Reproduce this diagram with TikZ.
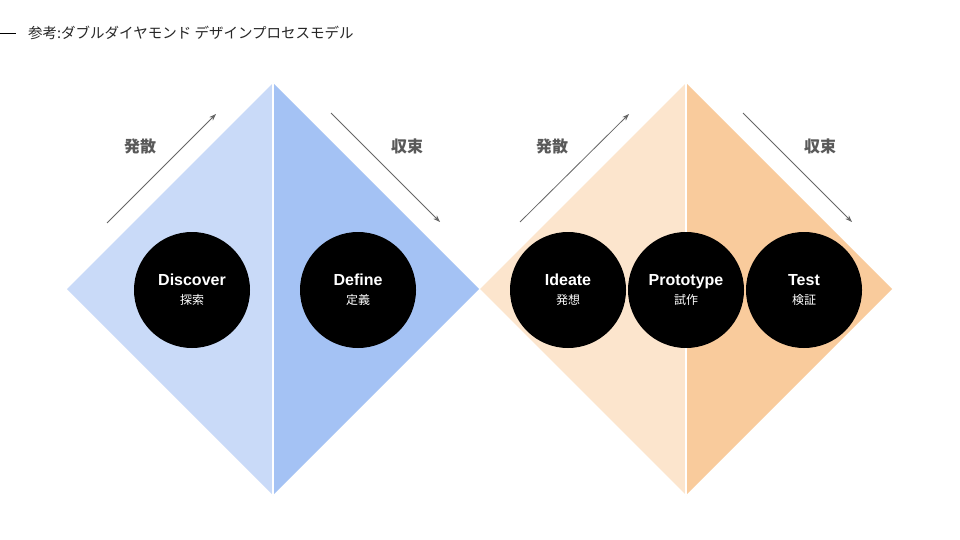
\documentclass[tikz,border=0pt]{standalone}
\usepackage{fontspec}
\setmainfont{Noto Sans CJK JP}
\newfontfamily\latinbold{Liberation Sans}[BoldFont={Liberation Sans Bold}]
\usetikzlibrary{arrows.meta}
\definecolor{blueL}{HTML}{C9DAF8}
\definecolor{blueR}{HTML}{A4C2F4}
\definecolor{orangeL}{HTML}{FCE5CD}
\definecolor{orangeR}{HTML}{F9CB9C}
\definecolor{arrowgray}{HTML}{666666}
\definecolor{labelgray}{HTML}{595959}
\tikzset{
  phase/.style={circle, fill=black, minimum size=116pt, inner sep=0pt},
  phasename/.style={anchor=base, inner sep=0pt, text=white, font=\latinbold\bfseries\fontsize{16}{20}\selectfont},
  phasesub/.style={anchor=base, inner sep=0pt, text=white, font=\fontsize{12}{15}\selectfont},
  flowarrow/.style={draw=arrowgray, line width=0.8pt, -{Stealth[length=7pt,width=5pt]}},
  flowlabel/.style={text=labelgray, font=\fontsize{16}{19}\selectfont\bfseries},
  halfgap/.style={draw=white, line width=1.5pt},
}
\newcommand{\phasecircle}[4]{%
  \node[phase] (#1) at (#2,290) {};
  \node[phasename] (#1-name) at ([yshift=4.5pt]#1.center) {#3};
  \node[phasesub] (#1-sub) at ([yshift=-14.5pt]#1.center) {#4};
}
\begin{document}
\begin{tikzpicture}[x=1pt,y=-1pt]
\useasboundingbox (0,0) rectangle (960,540);
\fill[white] (0,0) rectangle (960,540);
% title
\draw[black, line width=0.8pt] (0,33) -- (16,33);
\node[anchor=west, inner sep=0pt, text=black!85, font=\fontsize{14.5}{17}\selectfont] (title) at (28,33) {参考:ダブルダイヤモンド デザインプロセスモデル};
% left diamond
\fill[blueL] (273,83) -- (67,289) -- (273,495) -- cycle;
\fill[blueR] (273,83) -- (479,289) -- (273,495) -- cycle;
\draw[halfgap] (273,83) -- (273,495);
% right diamond
\fill[orangeL] (686,83) -- (480,289) -- (686,495) -- cycle;
\fill[orangeR] (686,83) -- (892,289) -- (686,495) -- cycle;
\draw[halfgap] (686,83) -- (686,495);
% arrows
\coordinate (a1s) at (107,223); \coordinate (a1e) at (216,114);
\coordinate (a2s) at (331,113); \coordinate (a2e) at (440,222);
\coordinate (a3s) at (520,222); \coordinate (a3e) at (629,114);
\coordinate (a4s) at (743,113); \coordinate (a4e) at (852,222);
\draw[flowarrow] (a1s) -- (a1e);
\draw[flowarrow] (a2s) -- (a2e);
\draw[flowarrow] (a3s) -- (a3e);
\draw[flowarrow] (a4s) -- (a4e);
\node[flowlabel] (l1) at (140,146) {発散};
\node[flowlabel] (l2) at (407,146) {収束};
\node[flowlabel] (l3) at (552,146) {発散};
\node[flowlabel] (l4) at (820,146) {収束};
% circles
\phasecircle{discover}{192}{Discover}{探索}
\phasecircle{define}{358}{Define}{定義}
\phasecircle{ideate}{568}{Ideate}{発想}
\phasecircle{prototype}{686}{Prototype}{試作}
\phasecircle{test}{804}{Test}{検証}
\end{tikzpicture}
\end{document}
